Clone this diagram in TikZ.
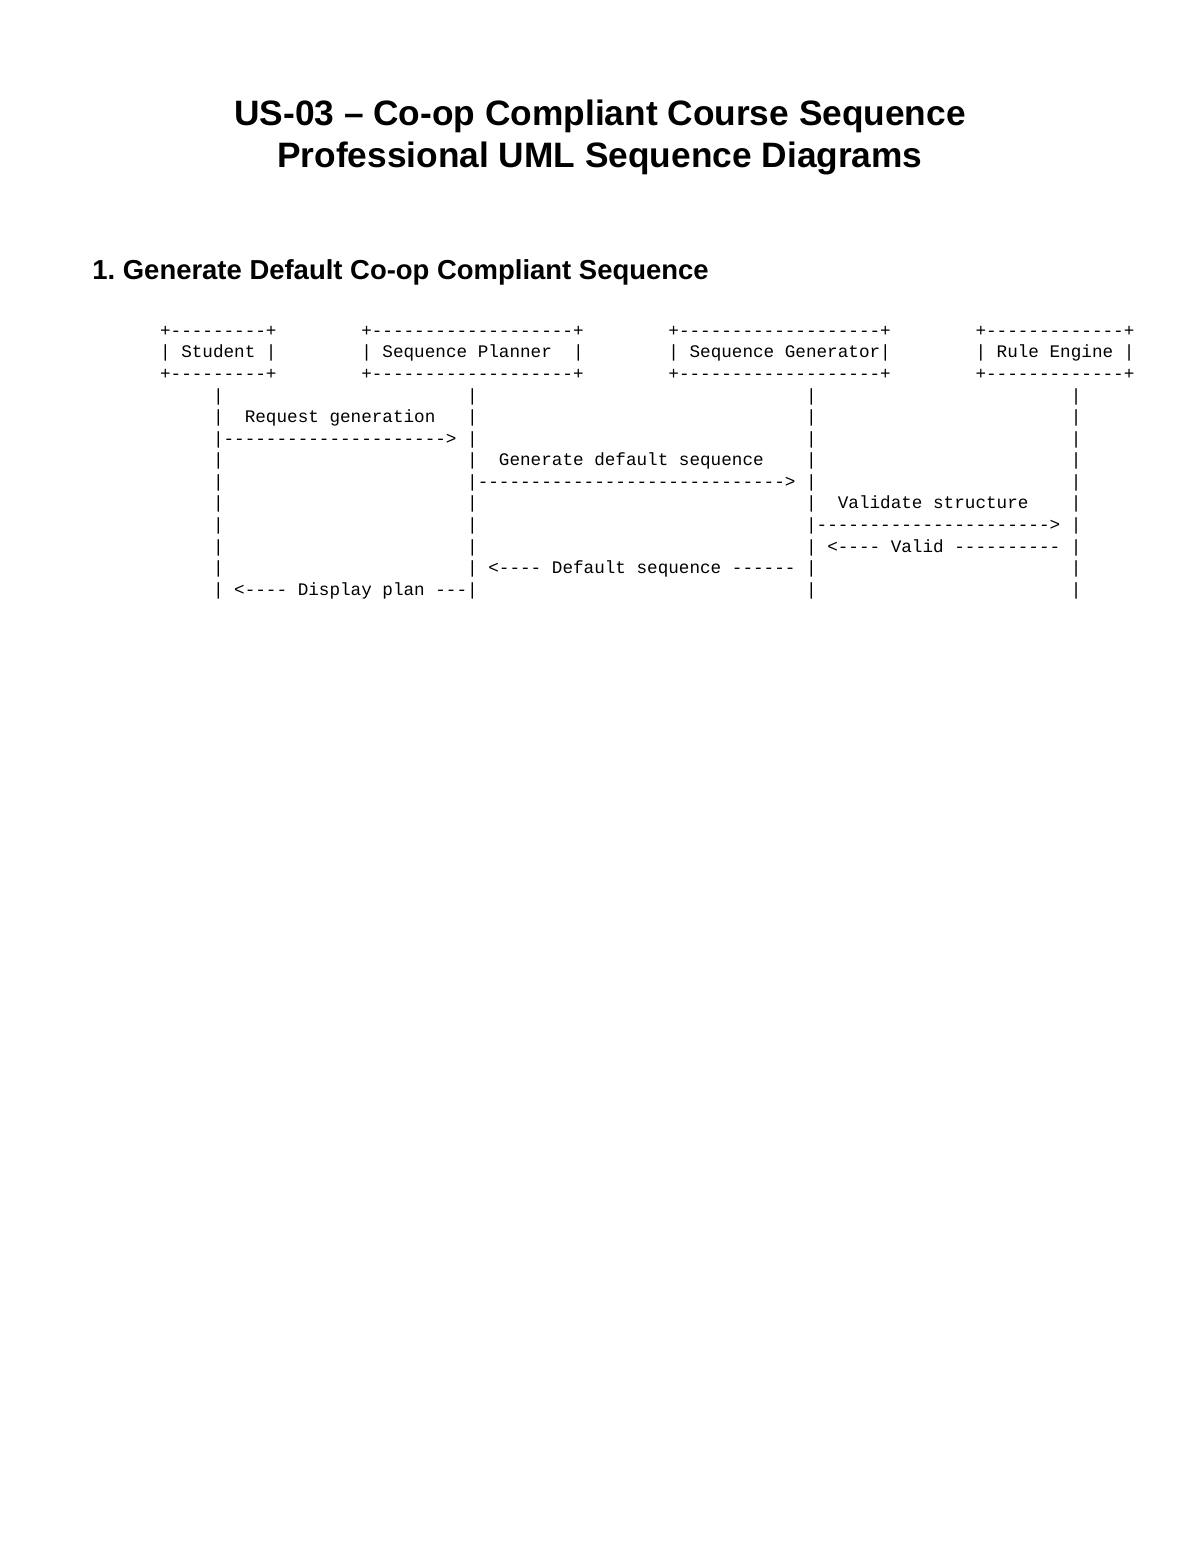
\documentclass[tikz,border=0pt]{standalone}
\usepackage{fontspec}
\setmainfont{Liberation Sans}
\setmonofont{Liberation Mono}
\tikzset{
  asc/.style={font=\ttfamily\fontsize{9}{11}\selectfont, inner sep=0pt, anchor=base west},
  ttl/.style={font=\bfseries\fontsize{18}{22}\selectfont, inner sep=0pt, anchor=base},
  hdg/.style={font=\bfseries\fontsize{14}{17}\selectfont, inner sep=0pt, anchor=base west}
}
\newcommand\asc[4]{\node[asc] (#1) at ({159.7+10.59*#2},{336.3+21.58*#3}) {#4};}
\begin{document}
\begin{tikzpicture}[x=0.51pt,y=-0.51pt]
\useasboundingbox (0,0) rectangle (1200,1553);
% titles
\node[ttl] (t1) at (600,126) {US-03 – Co-op Compliant Course Sequence};
\node[ttl] (t2) at (600,168) {Professional UML Sequence Diagrams};
\node[hdg] (h1) at (92,279) {1.\ Generate Default Co-op Compliant Sequence};
% participant boxes
\asc{stTop}{0}{0}{+---------+}
\asc{plTop}{19}{0}{+-------------------+}
\asc{gnTop}{48}{0}{+-------------------+}
\asc{reTop}{77}{0}{+-------------+}
\asc{stName}{0}{1}{| Student |}
\asc{plName}{19}{1}{| Sequence Planner\ \ |}
\asc{gnName}{48}{1}{| Sequence Generator|}
\asc{reName}{77}{1}{| Rule Engine |}
\asc{stBot}{0}{2}{+---------+}
\asc{plBot}{19}{2}{+-------------------+}
\asc{gnBot}{48}{2}{+-------------------+}
\asc{reBot}{77}{2}{+-------------+}
% lifelines
\foreach \r in {3,...,12}{
  \asc{lst\r}{5}{\r}{|}
  \asc{lpl\r}{29}{\r}{|}
  \asc{lgn\r}{61}{\r}{|}
  \asc{lre\r}{86}{\r}{|}
}
% messages
\asc{m1}{8}{4}{Request generation}
\asc{a1}{6}{5}{--------------------->}
\asc{m2}{32}{6}{Generate default sequence}
\asc{a2}{30}{7}{----------------------------->}
\asc{m3}{64}{8}{Validate structure}
\asc{a3}{62}{9}{---------------------->}
\asc{r3}{63}{10}{<---- Valid ----------}
\asc{r2}{31}{11}{<---- Default sequence ------}
\asc{r1}{7}{12}{<---- Display plan ---}
\end{tikzpicture}
\end{document}
